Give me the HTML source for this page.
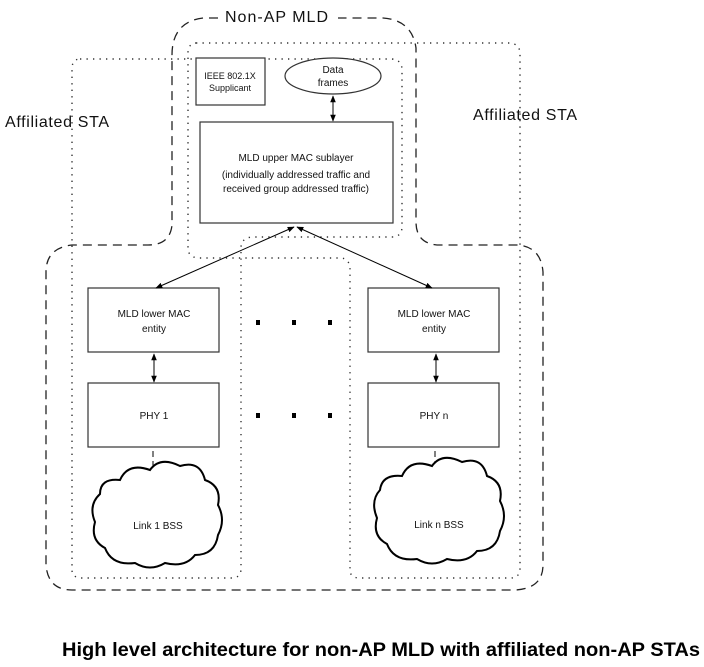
<!DOCTYPE html>
<html><head><meta charset="utf-8"><style>
html,body{margin:0;padding:0;background:#fff;}
svg{display:block;font-family:"Liberation Sans",sans-serif;}
</style></head><body>
<svg width="704" height="667" viewBox="0 0 704 667" xmlns="http://www.w3.org/2000/svg">
<defs>
<marker id="a" viewBox="0 0 10 10" refX="9" refY="5" markerWidth="7" markerHeight="7" orient="auto-start-reverse"><path d="M0,1 L10,5 L0,9 z" fill="#000"/></marker>
</defs>
<g fill="none" stroke="#222" stroke-width="1.3">
<!-- Non-AP MLD dashed outline -->
<path d="M218,18 L203,18 Q172,22 172,55 L172,225 Q170,245 148,245 L72,245 Q46,248 46,272 L46,565 Q48,590 72,590 L516,590 Q543,588 543,565 L543,272 Q541,247 518,245 L437,245 Q416,243 416,222 L416,48 Q412,20 383,18 L338,18" stroke-dasharray="9,6"/>
</g>
<g fill="none" stroke="#333" stroke-width="1.4" stroke-dasharray="1.3,5.2">
<!-- left affiliated STA dotted -->
<path d="M80,59 L392,59 Q402,60 402,70 L402,228 Q401,237 392,237 L252,237 Q241,238 241,248 L241,570 Q240,578 232,578 L80,578 Q72,577 72,570 L72,67 Q73,59 80,59 Z"/>
<!-- right affiliated STA dotted -->
<path d="M196,43 L510,43 Q520,44 520,54 L520,570 Q519,578 510,578 L358,578 Q350,577 350,570 L350,268 Q349,258 340,258 L198,258 Q188,257 188,248 L188,52 Q189,43 196,43 Z"/>
</g>
<g fill="#fff" stroke="#333" stroke-width="1.2">
<rect x="196" y="58" width="69" height="47"/>
<ellipse cx="333" cy="76" rx="48" ry="18"/>
<rect x="200" y="122" width="193" height="101"/>
<rect x="88" y="288" width="131" height="64"/>
<rect x="368" y="288" width="131" height="64"/>
<rect x="88" y="383" width="131" height="64"/>
<rect x="368" y="383" width="131" height="64"/>
</g>
<g stroke="#000" stroke-width="1" fill="none">
<line x1="333" y1="96" x2="333" y2="121" marker-start="url(#a)" marker-end="url(#a)"/>
<line x1="294" y1="227" x2="156" y2="288" marker-start="url(#a)" marker-end="url(#a)"/>
<line x1="297" y1="227" x2="432" y2="288" marker-start="url(#a)" marker-end="url(#a)"/>
<line x1="154" y1="354" x2="154" y2="382" marker-start="url(#a)" marker-end="url(#a)"/>
<line x1="436" y1="354" x2="436" y2="382" marker-start="url(#a)" marker-end="url(#a)"/>
<line x1="153" y1="451" x2="153" y2="486" stroke-dasharray="6,4"/>
<line x1="435" y1="451" x2="435" y2="490" stroke-dasharray="6,4"/>
</g>
<g fill="#fff" stroke="#000" stroke-width="2">
<path d="M100,494 Q100,478 120,480 Q128,462 150,470 Q160,456 180,466 Q200,460 205,480 Q222,486 218,505 Q226,520 218,535 Q215,555 195,555 Q185,568 165,563 Q150,572 135,563 Q112,566 105,548 Q90,540 95,522 Q88,505 100,494 Z"/>
<path d="M380,490 Q382,474 402,476 Q410,458 432,466 Q442,452 462,462 Q482,456 487,476 Q504,482 500,501 Q508,516 500,531 Q497,551 477,551 Q467,564 447,559 Q432,568 417,559 Q394,562 387,544 Q372,536 377,518 Q370,501 380,490 Z"/>
</g>
<g fill="#000">
<rect x="256" y="320" width="4" height="5"/><rect x="292" y="320" width="4" height="5"/><rect x="328" y="320" width="4" height="5"/>
<rect x="256" y="413" width="4" height="5"/><rect x="292" y="413" width="4" height="5"/><rect x="328" y="413" width="4" height="5"/>
</g>
<g fill="#111" text-anchor="middle" font-size="10">
<text x="230" y="79" font-size="9">IEEE 802.1X</text>
<text x="230" y="91" font-size="9">Supplicant</text>
<text x="333" y="73">Data</text>
<text x="333" y="86">frames</text>
<text x="296" y="161">MLD upper MAC sublayer</text>
<text x="296" y="178">(individually addressed traffic and</text>
<text x="296" y="192">received group addressed traffic)</text>
<text x="154" y="317">MLD lower MAC</text>
<text x="154" y="332">entity</text>
<text x="434" y="317">MLD lower MAC</text>
<text x="434" y="332">entity</text>
<text x="154" y="419">PHY 1</text>
<text x="434" y="419">PHY n</text>
<text x="158" y="529">Link 1 BSS</text>
<text x="439" y="528">Link n BSS</text>
</g>
<g fill="#111" font-size="16">
<text x="225" y="22" textLength="103">Non-AP MLD</text>
<text x="5" y="127" textLength="104">Affiliated STA</text>
<text x="473" y="120" textLength="104">Affiliated STA</text>
</g>
<text x="62" y="656" font-size="19" font-weight="bold" fill="#000" textLength="638" lengthAdjust="spacingAndGlyphs">High level architecture for non-AP MLD with affiliated non-AP STAs</text>
</svg>
</body></html>
